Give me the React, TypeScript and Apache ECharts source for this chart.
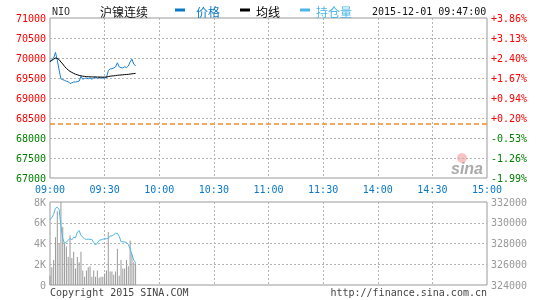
import React, { useEffect, useRef } from 'react';
import * as echarts from 'echarts';

const symbolCode = 'NIO';
const symbolName = '沪镍连续';
const timestamp = '2015-12-01 09:47:00';
const legendNames = ['价格', '均线', '持仓量'];
const timeLabels = ['09:00', '09:30', '10:00', '10:30', '11:00', '11:30', '14:00', '14:30', '15:00'];
const preClose = 68360;
const pctLabels = ['-1.99%', '-1.26%', '-0.53%', '+0.20%', '+0.94%', '+1.67%', '+2.40%', '+3.13%', '+3.86%'];
const footerLeft = 'Copyright 2015 SINA.COM';
const footerRight = 'http://finance.sina.com.cn';

const price = [
  69910, 69960, 70000, 70140, 69950, 69700, 69480, 69460, 69440, 69420,
  69410, 69360, 69380, 69400, 69400, 69410, 69420, 69540, 69470, 69490,
  69500, 69480, 69500, 69470, 69500, 69530, 69480, 69520, 69490, 69510,
  69500, 69510, 69680, 69730, 69730, 69750, 69780, 69880, 69780, 69760,
  69750, 69780, 69760, 69800, 69900, 69970, 69850, 69800,
];
const avgPrice = [
  69910, 69940, 69970, 70000, 69990, 69960, 69900, 69850, 69790, 69740,
  69700, 69665, 69640, 69615, 69595, 69580, 69565, 69555, 69545, 69540,
  69535, 69532, 69530, 69528, 69526, 69525, 69524, 69523, 69522, 69522,
  69522, 69523, 69535, 69545, 69550, 69555, 69560, 69568, 69572, 69576,
  69580, 69584, 69588, 69592, 69598, 69605, 69610, 69615,
];
const volume = [
  900, 1700, 2400, 4600, 7100, 4000, 8500, 5600, 4000, 3700,
  2700, 4800, 2600, 3200, 1600, 2700, 2200, 3200, 1400, 800,
  1400, 1700, 1800, 800, 1400, 800, 1400, 700, 800, 800,
  1100, 1400, 5100, 1300, 1300, 1000, 1300, 3500, 900, 2400,
  1600, 1600, 2400, 1800, 4300, 3000, 2200, 2100,
];
const openInterest = [
  330260, 330500, 330800, 331400, 331500, 331300, 329700, 328500, 328000, 328150,
  328300, 328500, 328350, 328600, 328550, 329100, 329250, 328800, 328600, 328450,
  328400, 328420, 328400, 328380, 328100, 327850, 328050, 328300, 328350, 328420,
  328450, 328450, 328500, 328720, 328750, 328850, 328980, 328980, 328700, 328170,
  328170, 328150, 328100, 327900, 327500, 326900, 326400, 326150,
];

const MONO = '"DejaVu Sans Mono", monospace';
const CJK = '"Noto Sans CJK SC", sans-serif';
const BLUE = '#0a78c8';
const LIGHTBLUE = '#4cb6e6';
const GRID_LINE = { color: '#b4b4b4', type: [2, 2] as any, width: 1 };

function txt(x: number, y: number, text: string, fill: string, font: string, align = 'left') {
  return {
    type: 'text',
    x,
    y,
    silent: true,
    style: { text, fill, font, align, textAlign: align, verticalAlign: 'middle', textVerticalAlign: 'middle' },
  };
}

export default function App() {
  const ref = useRef<HTMLDivElement>(null);
  useEffect(() => {
    if (!ref.current) return;
    const chart = echarts.init(ref.current, undefined, { renderer: 'svg' });
    const xBase = (grid: number, showLabel: boolean) => ({
      gridIndex: grid,
      type: 'value',
      min: 0,
      max: 240,
      interval: 30,
      axisLine: { show: false },
      axisTick: { show: false },
      axisLabel: {
        show: showLabel,
        color: BLUE,
        fontFamily: MONO,
        fontSize: 10,
        margin: 6,
        showMinLabel: true,
        showMaxLabel: true,
        formatter: (v: number) => timeLabels[Math.round(v / 30)] ?? '',
      },
      splitLine: { show: true, showMinLine: false, showMaxLine: false, lineStyle: GRID_LINE },
    });
    const pColor = (v: any) => (Number(v) >= preClose ? '#ff0000' : '#008000');
    chart.setOption({
      animation: false,
      grid: [
        { left: 50, top: 18, width: 437, height: 160, show: true, borderColor: '#999', borderWidth: 1, backgroundColor: 'transparent' },
        { left: 50, top: 202, width: 437, height: 83, show: true, borderColor: '#999', borderWidth: 1, backgroundColor: 'transparent' },
      ],
      xAxis: [xBase(0, true), xBase(1, false)],
      yAxis: [
        {
          gridIndex: 0, type: 'value', min: 67000, max: 71000, interval: 500, position: 'left',
          axisLine: { show: false }, axisTick: { show: false },
          axisLabel: {
            color: pColor, fontFamily: MONO, fontSize: 10, margin: 4, showMinLabel: true, showMaxLabel: true,
            formatter: (v: number) => String(v),
          },
          splitLine: { show: true, showMinLine: false, showMaxLine: false, lineStyle: GRID_LINE },
        },
        {
          gridIndex: 0, type: 'value', min: 67000, max: 71000, interval: 500, position: 'right',
          axisLine: { show: false }, axisTick: { show: false },
          axisLabel: {
            color: pColor, fontFamily: MONO, fontSize: 10, margin: 4, showMinLabel: true, showMaxLabel: true,
            formatter: (v: number) => pctLabels[Math.round((v - 67000) / 500)] ?? '',
          },
          splitLine: { show: false },
        },
        {
          gridIndex: 1, type: 'value', min: 0, max: 8000, interval: 2000, position: 'left',
          axisLine: { show: false }, axisTick: { show: false },
          axisLabel: {
            color: '#999', fontFamily: MONO, fontSize: 10, margin: 4, showMinLabel: true, showMaxLabel: true,
            formatter: (v: number) => (v === 0 ? '0' : v / 1000 + 'K'),
          },
          splitLine: { show: true, showMinLine: false, showMaxLine: false, lineStyle: GRID_LINE },
        },
        {
          gridIndex: 1, type: 'value', min: 324000, max: 332000, interval: 2000, position: 'right',
          axisLine: { show: false }, axisTick: { show: false },
          axisLabel: {
            color: '#999', fontFamily: MONO, fontSize: 10, margin: 4, showMinLabel: true, showMaxLabel: true,
            formatter: (v: number) => String(v),
          },
          splitLine: { show: false },
        },
      ],
      series: [
        {
          name: legendNames[0], type: 'line', xAxisIndex: 0, yAxisIndex: 0,
          data: price.map((v, i) => [i, v]), showSymbol: false, symbol: 'none',
          lineStyle: { color: '#1a7fd0', width: 1 }, itemStyle: { color: '#1a7fd0' },
          markLine: {
            symbol: 'none', silent: true, label: { show: false },
            lineStyle: { color: '#f08c28', type: [5, 3], width: 1.5, opacity: 1 },
            itemStyle: { color: '#f08c28' },
            emphasis: { disabled: true },
            data: [{ yAxis: preClose, lineStyle: { color: '#f08c28' } }],
          },
        },
        {
          name: legendNames[1], type: 'line', xAxisIndex: 0, yAxisIndex: 0,
          data: avgPrice.map((v, i) => [i, v]), showSymbol: false, symbol: 'none',
          lineStyle: { color: '#000', width: 1 }, itemStyle: { color: '#000' },
        },
        {
          name: 'volume', type: 'bar', xAxisIndex: 1, yAxisIndex: 2,
          data: volume.map((v, i) => [i, v]), barWidth: 1, itemStyle: { color: '#999' },
        },
        {
          name: legendNames[2], type: 'line', xAxisIndex: 1, yAxisIndex: 3,
          data: openInterest.map((v, i) => [i, v]), showSymbol: false, symbol: 'none',
          lineStyle: { color: LIGHTBLUE, width: 1 }, itemStyle: { color: LIGHTBLUE },
        },
      ],
      graphic: [
        txt(52, 11, symbolCode, '#333', `10px ${MONO}`),
        txt(100, 11.5, symbolName, '#111', `12px ${CJK}`),
        { type: 'rect', silent: true, shape: { x: 175, y: 8.5, width: 10, height: 3 }, style: { fill: BLUE } },
        txt(196, 11.5, legendNames[0], BLUE, `12px ${CJK}`),
        { type: 'rect', silent: true, shape: { x: 240, y: 8.5, width: 10, height: 3 }, style: { fill: '#000' } },
        txt(256, 11.5, legendNames[1], '#000', `12px ${CJK}`),
        { type: 'rect', silent: true, shape: { x: 300, y: 8.5, width: 10, height: 3 }, style: { fill: LIGHTBLUE } },
        txt(316, 11.5, legendNames[2], LIGHTBLUE, `12px ${CJK}`),
        txt(372, 11.5, timestamp, '#111', `10px ${MONO}`),
        { type: 'circle', silent: true, shape: { cx: 462, cy: 158, r: 5 }, style: { fill: '#f7b4b4', opacity: 0.8 } },
        txt(451, 168, 'sina', '#aaa', `italic bold 16px "Liberation Sans", sans-serif`),
        txt(50, 292, footerLeft, '#444', `10px ${MONO}`),
        txt(487, 292, footerRight, '#444', `10px ${MONO}`, 'right'),
      ],
    });
    return () => chart.dispose();
  }, []);
  return <div ref={ref} style={{ position: 'fixed', left: 0, top: 0, width: 540, height: 300 }} />;
}
